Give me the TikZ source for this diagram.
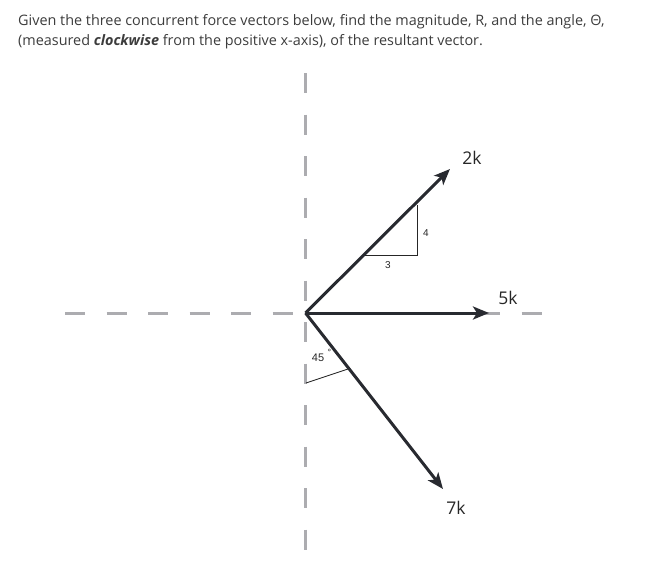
\documentclass[tikz,border=0pt]{standalone}
\usepackage{fontspec}
\setmainfont{Open Sans}
\newfontfamily\arialfont{Liberation Sans}
\usetikzlibrary{arrows.meta}
\definecolor{axisgray}{RGB}{172,172,176}
\definecolor{vecdark}{RGB}{40,42,48}
\definecolor{titlegray}{RGB}{60,60,60}
\tikzset{
  axisline/.style={draw=axisgray,line width=3pt,dash pattern=on 20pt off 21.5pt},
  vector/.style={draw=vecdark,line width=3pt,-{Stealth[length=16pt,width=13pt,inset=4pt]}},
  thinline/.style={draw=black!85,line width=0.9pt},
  veclabel/.style={font=\fontsize{17.5}{17.5}\selectfont,text=black!85,inner sep=0pt},
  smalllabel/.style={font=\arialfont\fontsize{10}{10}\selectfont,text=black!85,inner sep=0pt},
  titletext/.style={font=\fontsize{14.4}{16}\selectfont,text=titlegray,inner sep=0pt,anchor=base west}
}
\begin{document}
\begin{tikzpicture}[x=1pt,y=-1pt]
\useasboundingbox (0,0) rectangle (672,570);
% title
\node[titletext] (t1) at (18,25) {Given the three concurrent force vectors below, find the magnitude, R, and the angle, Θ,};
\node[titletext] (t2) at (18,45) {(measured \textbf{\textit{clockwise}} from the positive x-axis), of the resultant vector.};
% axes
\coordinate (O) at (305.5,313);
\coordinate (vtop) at (305.5,73);
\coordinate (vbot) at (305.5,551);
\coordinate (hleft) at (65,313);
\coordinate (hright) at (543,313);
\draw[axisline] (vtop) -- (vbot);
\draw[axisline] (hleft) -- (hright);
% triangle 3-4
\coordinate (ta) at (365,255);
\coordinate (tb) at (417,255);
\coordinate (tc) at (417,205);
\draw[thinline] (ta) -- (tb) -- (tc);
\node[smalllabel] (l4) at (426,233) {4};
\node[smalllabel] (l3) at (388,265) {3};
% 45 degree marker
\coordinate (ma) at (306,383);
\coordinate (mb) at (348,369);
\draw[thinline] (ma) -- (mb);
\node[smalllabel,font=\arialfont\fontsize{11}{11}\selectfont] (l45) at (318,358) {45};
\node[smalllabel,font=\arialfont\fontsize{9}{9}\selectfont] (ldeg) at (329.5,352) {°};
% vectors
\coordinate (A) at (450,169);
\coordinate (B) at (489,313);
\coordinate (C) at (443,489);
\draw[vector] (O) -- (A);
\draw[vector] (O) -- (B);
\draw[vector] (O) -- (C);
\node[veclabel] (k2) at (472,158) {2k};
\node[veclabel] (k5) at (508,298) {5k};
\node[veclabel] (k7) at (456,508) {7k};
\end{tikzpicture}
\end{document}
